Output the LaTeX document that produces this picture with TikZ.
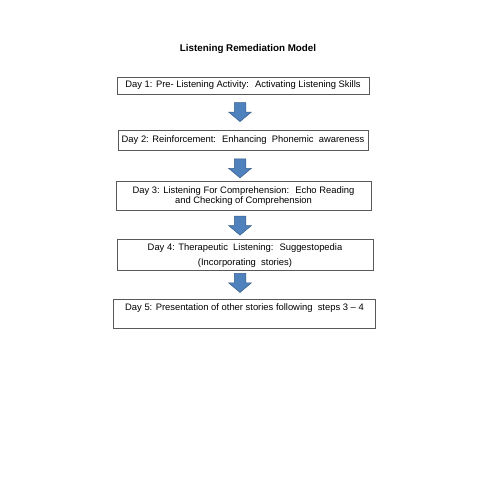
\documentclass[tikz,border=0pt]{standalone}
\usepackage{fontspec}
\setmainfont{Liberation Sans}
\usetikzlibrary{positioning,shapes.arrows}
\definecolor{arrowblue}{RGB}{79,129,189}
\definecolor{arrowedge}{RGB}{56,93,138}
\tikzset{stepbox/.style={draw=black!65,line width=0.7pt,inner sep=0pt,align=center,font=\fontsize{9.4}{10.3}\selectfont}}
\tikzset{downarrow/.style={single arrow,shape border rotate=270,draw=arrowedge,fill=arrowblue,line width=0.5pt,minimum height=19pt,minimum width=22pt,single arrow head extend=5.5pt,single arrow tip angle=100,inner sep=5.5pt}}

\begin{document}
\begin{tikzpicture}[x=1pt,y=1pt]
		\useasboundingbox (0,0) rectangle (495,-495);
		\node[font=\fontsize{9.8}{11}\selectfont\bfseries] (title) at (248,-49) {Listening Remediation Model};
		\node[stepbox,minimum width=252pt,minimum height=17pt] (day1) at (243,-85.5) {Day 1: Pre- Listening Activity: \ Activating Listening Skills};
		\node[downarrow,below=8pt of day1,xshift=-3pt] (a1) {};
		\node[stepbox,minimum width=250pt,minimum height=20pt,below=8pt of a1,xshift=3pt] (day2) {Day 2: Reinforcement: \ Enhancing \ Phonemic \ awareness};
		\node[downarrow,below=8pt of day2,xshift=-3pt] (a2) {};
		\node[stepbox,minimum width=255pt,minimum height=29pt,below=3pt of a2,xshift=3.5pt] (day3) {Day 3: Listening For Comprehension: \ Echo Reading\\and Checking of Comprehension};
		\node[downarrow,below=5pt of day3,xshift=-3.5pt] (a3) {};
		\node[stepbox,minimum width=256pt,minimum height=31pt,below=4pt of a3,xshift=5pt] (day4) {Day 4: Therapeutic \ Listening: \ Suggestopedia\\[4.5pt](Incorporating \ stories)};
		\node[downarrow,below=2pt of day4,xshift=-5pt] (a4) {};
		\node[stepbox,minimum width=262pt,minimum height=29pt,below=6pt of a4,xshift=4.5pt] (day5) {Day 5: Presentation of other stories following \ steps 3 -- 4\\ \strut};
	\end{tikzpicture}
\end{document}
